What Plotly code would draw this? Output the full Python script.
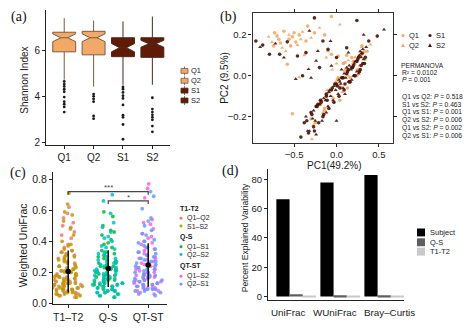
import plotly.graph_objects as go

W, H = 474, 331
FONT = "Liberation Sans, Arial, sans-serif"
SERIF = "Liberation Serif, Times New Roman, serif"

# ---------------- panel (a): Shannon index boxplots ----------------
box_groups = ["Q1", "Q2", "S1", "S2"]
box_q1 = [5.93, 5.80, 5.72, 5.69]
box_median = [6.54, 6.54, 6.11, 6.28]
box_q3 = [6.78, 6.82, 6.54, 6.54]
box_lower = [4.72, 4.42, 4.50, 4.50]
box_upper = [7.39, 7.29, 7.25, 7.46]
box_notch = [0.17, 0.17, 0.18, 0.15]
out_Q1 = [4.65, 4.54, 4.43, 4.31, 4.20, 3.97, 3.77, 3.66, 3.54, 3.32]
out_Q2 = [4.10, 4.00, 3.89, 3.77, 3.15, 3.03]
out_S1 = [4.41, 4.31, 4.17, 4.03, 3.91, 3.63, 3.18, 3.09, 2.78, 2.14]
out_S2 = [3.94, 3.45, 3.32, 3.20, 3.09, 2.98, 2.71, 2.46]
box_colors = ["#F2A866", "#F2A866", "#601B06", "#601B06"]
box_edges = ["#7A5C44", "#7A5C44", "#4A2A1C", "#4A2A1C"]
a_yticks = [2, 4, 6]

# ---------------- panel (b): PCoA scatter ----------------
Q1_x = [-0.73, -0.62, -0.50, -0.44, -0.68, -0.56, -0.74, -0.54, -0.34, -0.06, -0.14, -0.58, -0.06, 0.02, 0.10, 0.30, 0.18,
        -0.30, -0.25, -0.19, -0.14, -0.09, -0.04, 0.01, 0.06, 0.11, 0.16, 0.21, 0.26, 0.31, 0.36, -0.52, -0.14, 0.04, 0.13, 0.24,
        -0.70, -0.66, -0.52, -0.48, -0.36, -0.26, 0.02, 0.08, 0.20, 0.28, 0.12, 0.33]
Q1_y = [0.21, 0.218, 0.21, 0.20, 0.178, 0.178, 0.146, 0.146, 0.243, 0.29, 0.20, 0.056, 0.105, 0.097, 0.065, 0.146, 0.089,
        -0.21, -0.23, -0.14, -0.16, -0.08, -0.11, -0.02, -0.06, 0.03, -0.01, 0.07, 0.03, 0.11, 0.12, -0.186, -0.17, -0.12, -0.06, 0.0,
        0.195, 0.16, 0.19, 0.165, 0.17, 0.21, -0.01, 0.06, 0.07, 0.10, 0.10, 0.12]
Q2_x = [-0.42, -0.64, -0.20, 0.04, -0.30, -0.44, -0.12, 0.40, -0.80, -0.60, -0.38,
        -0.27, -0.22, -0.16, -0.11, -0.06, -0.01, 0.04, 0.09, 0.14, 0.19, 0.24, 0.29, 0.34, -0.29, 0.07, 0.17, 0.27, -0.05,
        -0.76, -0.56, -0.46, -0.40, -0.10, 0.0, 0.14, 0.22, 0.30]
Q2_y = [0.178, 0.137, 0.234, 0.25, 0.186, -0.008, 0.089, 0.153, 0.19, 0.12, 0.10,
        -0.24, -0.15, -0.18, -0.07, -0.10, -0.03, -0.05, 0.02, 0.0, 0.06, 0.03, 0.10, 0.08, -0.31, -0.08, -0.03, 0.05, 0.03,
        0.165, 0.20, 0.15, 0.215, 0.12, 0.06, 0.075, 0.09, 0.14]
S1_x = [-0.95, -0.87, -0.79, -0.67, -0.58, -0.46, -0.26, -0.16, -0.10, -0.36, -0.20, 0.24, 0.48, 0.38, 0.12, 0.00, -0.40,
        -0.38, -0.33, -0.30, -0.27, -0.24, -0.21, -0.18, -0.15, -0.12, -0.09, -0.06, -0.03, 0.00, 0.03, 0.06, 0.09, 0.12,
        0.15, 0.18, 0.21, 0.24, 0.27, 0.30, 0.33, -0.22, -0.12, -0.02, 0.08, 0.14, 0.20, 0.26, 0.31, -0.42,
        -0.35, -0.29, -0.23, -0.19, -0.11, -0.05, 0.01, 0.07, 0.13, 0.19, 0.25, 0.29, 0.34, 0.16, 0.22, 0.28, -0.26,
        -0.16, 0.04, 0.10]
S1_y = [0.17, 0.15, 0.105, 0.105, 0.166, 0.097, 0.283, 0.17, 0.129, 0.113, 0.04, 0.27, 0.194, 0.17, 0.137, 0.089, 0.0,
        -0.23, -0.28, -0.18, -0.25, -0.15, -0.23, -0.13, -0.19, -0.10, -0.16, -0.07, -0.13, -0.04, -0.10, -0.01, -0.07, 0.01,
        -0.03, 0.04, 0.0, 0.07, 0.02, 0.11, 0.06, -0.14, -0.09, -0.04, -0.01, 0.03, 0.05, 0.09, 0.06, -0.30,
        -0.22, -0.19, -0.15, -0.12, -0.12, -0.06, -0.05, -0.01, 0.02, 0.04, 0.08, 0.05, 0.09, -0.03, 0.0, 0.03, -0.27,
        -0.20, -0.06, -0.04]
S2_x = [-0.90, -0.72, -0.62, -0.32, -0.22, -0.07, -0.24, -0.33, 0.32, 0.56, 0.14, -0.06, -0.48, -0.30, -0.24,
        -0.36, -0.32, -0.28, -0.25, -0.20, -0.17, -0.13, -0.10, -0.07, -0.04, -0.01, 0.02, 0.05, 0.08, 0.11, 0.14, 0.17,
        0.20, 0.23, 0.26, 0.29, 0.32, 0.35, -0.18, -0.08, 0.04, 0.12, 0.22, 0.28, 0.0, 0.10,
        -0.34, -0.27, -0.21, -0.15, -0.09, -0.03, 0.03, 0.09, 0.15, 0.21, 0.27, 0.31, 0.18, 0.24, -0.12, 0.06]
S2_y = [0.14, 0.157, 0.089, 0.22, 0.121, 0.17, 0.073, 0.032, 0.2, 0.226, 0.113, 0.049, -0.016, -0.01, -0.288,
        -0.20, -0.27, -0.21, -0.22, -0.14, -0.22, -0.12, -0.15, -0.10, -0.12, -0.07, -0.09, -0.04, -0.06, -0.01, -0.03, 0.03,
        0.0, 0.07, 0.01, 0.09, 0.08, 0.14, -0.12, -0.07, -0.03, 0.04, 0.07, 0.12, -0.22, -0.09,
        -0.27, -0.17, -0.14, -0.11, -0.08, -0.05, -0.02, 0.01, 0.05, 0.06, 0.10, 0.13, -0.02, 0.02, -0.18, 0.03]
Q_COL = "#F2A866"
S_COL = "#4A1206"
b_xticks = [-0.5, 0.0, 0.5]
b_xtext = ["−0.5", "0.0", "0.5"]
b_yticks = [-0.2, 0.0, 0.2]
b_ytext = ["−0.2", "0.0", "0.2"]
perm_lines = ["PERMANOVA", "R² = 0.0102", "<i>P</i> = 0.001", "",
              "Q1 vs Q2: <i>P</i> = 0.518", "S1 vs S2: <i>P</i> = 0.463", "Q1 vs S1: <i>P</i> = 0.001",
              "Q2 vs S2: <i>P</i> = 0.006", "Q1 vs S2: <i>P</i> = 0.002", "Q2 vs S1: <i>P</i> = 0.006"]

# ---------------- panel (c): weighted UniFrac strips ----------------
c_groups = ["T1–T2", "Q-S", "QT-ST"]
d_Q1Q2 = [0.05, 0.07, 0.08, 0.09, 0.10, 0.11, 0.12, 0.13, 0.14, 0.15, 0.16, 0.17, 0.18, 0.19, 0.20, 0.21, 0.22, 0.24,
          0.26, 0.28, 0.30, 0.32, 0.34, 0.36, 0.38, 0.42, 0.46, 0.50, 0.52, 0.55, 0.58, 0.62, 0.06, 0.09, 0.12, 0.15,
          0.18, 0.11, 0.14, 0.08, 0.04, 0.06, 0.07, 0.09, 0.10, 0.12, 0.13, 0.14, 0.16, 0.17, 0.19, 0.21, 0.23, 0.24,
          0.27, 0.29, 0.31, 0.33, 0.44, 0.49]
d_S1S2 = [0.04, 0.05, 0.06, 0.07, 0.08, 0.09, 0.10, 0.11, 0.12, 0.13, 0.14, 0.15, 0.16, 0.17, 0.18, 0.19, 0.20, 0.22,
          0.24, 0.25, 0.27, 0.29, 0.31, 0.33, 0.35, 0.37, 0.40, 0.44, 0.48, 0.53, 0.59, 0.64, 0.71, 0.06, 0.10, 0.13,
          0.16, 0.08, 0.12, 0.21, 0.05, 0.06, 0.07, 0.09, 0.10, 0.11, 0.13, 0.14, 0.15, 0.17, 0.18, 0.20, 0.22, 0.23,
          0.26, 0.28, 0.30, 0.34, 0.38, 0.57]
d_Q1S1 = [0.04, 0.06, 0.07, 0.08, 0.10, 0.11, 0.12, 0.13, 0.14, 0.15, 0.16, 0.17, 0.18, 0.19, 0.20, 0.21, 0.22, 0.23,
          0.25, 0.26, 0.28, 0.30, 0.32, 0.34, 0.36, 0.38, 0.41, 0.44, 0.47, 0.50, 0.56, 0.59, 0.09, 0.13, 0.17, 0.24,
          0.27, 0.12, 0.05, 0.07, 0.08, 0.09, 0.11, 0.12, 0.14, 0.15, 0.16, 0.18, 0.19, 0.21, 0.22, 0.24, 0.26, 0.29,
          0.31, 0.33, 0.39, 0.46]
d_Q2S2 = [0.05, 0.06, 0.08, 0.09, 0.10, 0.11, 0.12, 0.14, 0.15, 0.16, 0.17, 0.18, 0.19, 0.20, 0.21, 0.22, 0.24, 0.25,
          0.27, 0.29, 0.31, 0.33, 0.35, 0.37, 0.40, 0.43, 0.46, 0.52, 0.58, 0.66, 0.70, 0.07, 0.13, 0.16, 0.19, 0.23,
          0.28, 0.04, 0.07, 0.08, 0.10, 0.11, 0.12, 0.13, 0.15, 0.17, 0.18, 0.20, 0.21, 0.23, 0.26, 0.27, 0.30, 0.32,
          0.36, 0.42, 0.49]
d_Q1S2 = [0.06, 0.08, 0.09, 0.10, 0.11, 0.12, 0.13, 0.14, 0.15, 0.16, 0.17, 0.18, 0.19, 0.20, 0.21, 0.22, 0.23, 0.24,
          0.26, 0.28, 0.30, 0.32, 0.34, 0.36, 0.38, 0.40, 0.42, 0.45, 0.48, 0.51, 0.54, 0.68, 0.74, 0.77, 0.10, 0.14,
          0.18, 0.25, 0.29, 0.33, 0.07, 0.08, 0.10, 0.11, 0.12, 0.13, 0.15, 0.16, 0.17, 0.19, 0.20, 0.22, 0.24, 0.27,
          0.29, 0.31, 0.35, 0.39, 0.43, 0.52]
d_Q2S1 = [0.05, 0.07, 0.08, 0.09, 0.11, 0.12, 0.13, 0.15, 0.16, 0.17, 0.19, 0.20, 0.21, 0.23, 0.24, 0.26, 0.27, 0.29,
          0.31, 0.33, 0.35, 0.37, 0.39, 0.41, 0.44, 0.47, 0.50, 0.55, 0.69, 0.72, 0.09, 0.14, 0.18, 0.22, 0.28, 0.06,
          0.08, 0.09, 0.10, 0.12, 0.14, 0.15, 0.17, 0.18, 0.20, 0.22, 0.25, 0.27, 0.30, 0.32, 0.36, 0.40, 0.45, 0.53,
          0.61]
c_means = [0.205, 0.224, 0.248]
c_sd = [0.135, 0.118, 0.140]
c_yticks = [0, 0.2, 0.4, 0.6, 0.8]
c_ytext = ["0.0", "0.2", "0.4", "0.6", "0.8"]
sig1_y = [0.70, 0.72, 0.72, 0.70]
sig2_y = [0.64, 0.66, 0.66, 0.64]
pair_cols = {"Q1–Q2": "#F8766D", "S1–S2": "#B79F00", "Q1–S1": "#00BA38",
             "Q2–S2": "#00BFC4", "Q1–S2": "#F564E3", "Q2–S1": "#619CFF"}

# ---------------- panel (d): explained variability ----------------
d_metrics = ["UniFrac", "WUniFrac", "Bray–Curtis"]
var_subject = [66.5, 78.0, 83.0]
var_qs = [1.5, 0.8, 0.8]
var_t = [0.3, 0.2, 0.2]
d_yticks = [0, 20, 40, 60, 80]

fig = go.Figure()

# (a)
for g, lo, a, m, b, hi, n, fc, ec in zip(box_groups, box_lower, box_q1, box_median, box_q3, box_upper,
                                         box_notch, box_colors, box_edges):
    fig.add_trace(go.Box(x=[g], q1=[a], median=[m], q3=[b], lowerfence=[lo], upperfence=[hi],
                         notchspan=[n], notched=True, notchwidth=0.35, width=0.78, whiskerwidth=0,
                         fillcolor=fc, line=dict(color=ec, width=1), boxpoints=False,
                         showlegend=False, xaxis="x", yaxis="y"))
for g, outs in zip(box_groups, [out_Q1, out_Q2, out_S1, out_S2]):
    fig.add_trace(go.Scatter(x=[g] * len(outs), y=outs, mode="markers",
                             marker=dict(size=2.8, color="#1a1a1a"), showlegend=False,
                             xaxis="x", yaxis="y"))

# (b)
for xs, ys, col, sym in [(Q1_x, Q1_y, Q_COL, "circle"), (Q2_x, Q2_y, Q_COL, "triangle-up"),
                         (S1_x, S1_y, S_COL, "circle"), (S2_x, S2_y, S_COL, "triangle-up")]:
    fig.add_trace(go.Scatter(x=xs, y=ys, mode="markers",
                             marker=dict(size=3.6, color=col, symbol=sym, opacity=0.9),
                             showlegend=False, xaxis="x2", yaxis="y2"))

# (c)
strip_sets = [("T1–T2", "Q1–Q2", d_Q1Q2), ("T1–T2", "S1–S2", d_S1S2),
              ("Q-S", "Q1–S1", d_Q1S1), ("Q-S", "Q2–S2", d_Q2S2),
              ("QT-ST", "Q1–S2", d_Q1S2), ("QT-ST", "Q2–S1", d_Q2S1)]
for grp, pair, vals in strip_sets:
    fig.add_trace(go.Box(x=[grp] * len(vals), y=vals, boxpoints="all", jitter=1.0, pointpos=0,
                         width=0.8, whiskerwidth=0, fillcolor="rgba(0,0,0,0)",
                         line=dict(width=0, color="rgba(0,0,0,0)"),
                         marker=dict(size=3.8, color=pair_cols[pair], opacity=0.85),
                         showlegend=False, xaxis="x3", yaxis="y3"))
fig.add_trace(go.Scatter(x=c_groups, y=c_means, mode="markers",
                         marker=dict(size=5.5, color="black"),
                         error_y=dict(type="data", array=c_sd, color="black", thickness=1.4, width=0),
                         showlegend=False, xaxis="x3", yaxis="y3"))
fig.add_trace(go.Scatter(x=["T1–T2", "T1–T2", "QT-ST", "QT-ST"], y=sig1_y, mode="lines",
                         line=dict(color="#444", width=1.2), showlegend=False, xaxis="x3", yaxis="y3"))
fig.add_trace(go.Scatter(x=["Q-S", "Q-S", "QT-ST", "QT-ST"], y=sig2_y, mode="lines",
                         line=dict(color="#444", width=1.2), showlegend=False, xaxis="x3", yaxis="y3"))

# (d)
for vals, col in [(var_subject, "#000000"), (var_qs, "#5E5E5E"), (var_t, "#C8C8C8")]:
    fig.add_trace(go.Bar(x=d_metrics, y=vals, marker=dict(color=col, line=dict(width=0)),
                         showlegend=False, xaxis="x4", yaxis="y4"))


def px(x):
    return x / W


def py(y):
    return 1 - y / H


axis_common = dict(showgrid=False, zeroline=False, showline=True, linecolor="#222", linewidth=1,
                   ticks="outside", ticklen=3, tickcolor="#222", tickwidth=1,
                   tickfont=dict(family=FONT, size=10, color="#1a1a1a"))

fig.update_layout(
    width=W, height=H, margin=dict(l=0, r=0, t=0, b=0),
    plot_bgcolor="white", paper_bgcolor="white",
    boxmode="overlay", barmode="group", bargap=0.1, bargroupgap=0,
    font=dict(family=FONT, size=10, color="#1a1a1a"),
    xaxis=dict(axis_common, domain=[px(46), px(170)], anchor="y", type="category",
               categoryorder="array", categoryarray=box_groups, range=[-0.62, 3.6]),
    yaxis=dict(axis_common, domain=[py(147), py(10)], anchor="x", range=[1.9, 7.75],
               tickvals=a_yticks),
    xaxis2=dict(axis_common, domain=[px(252.5), px(392.5)], anchor="y2", range=[-0.99, 0.66],
                tickvals=b_xticks, ticktext=b_xtext, mirror="ticks", linecolor="#333", linewidth=1.2,
                tickfont=dict(family=FONT, size=9.5, color="#1a1a1a")),
    yaxis2=dict(axis_common, domain=[py(145), py(13)], anchor="x2", range=[-0.328, 0.308],
                tickvals=b_yticks, ticktext=b_ytext, mirror="ticks", linecolor="#333", linewidth=1.2,
                tickfont=dict(family=FONT, size=9.5, color="#1a1a1a")),
    xaxis3=dict(axis_common, domain=[px(53), px(167)], anchor="y3", type="category",
                categoryorder="array", categoryarray=c_groups, range=[-0.38, 2.47],
                tickfont=dict(family=FONT, size=10.5, color="#1a1a1a")),
    yaxis3=dict(axis_common, domain=[py(309), py(175)], anchor="x3", range=[-0.006, 0.844],
                tickvals=c_yticks, ticktext=c_ytext,
                tickfont=dict(family=FONT, size=10.5, color="#1a1a1a")),
    xaxis4=dict(axis_common, domain=[px(268), px(404)], anchor="y4", type="category",
                categoryorder="array", categoryarray=d_metrics, range=[-0.64, 2.45],
                showticklabels=False, ticks=""),
    yaxis4=dict(axis_common, domain=[py(305), py(172)], anchor="x4", range=[-2.7, 86.9],
                tickvals=d_yticks, tickfont=dict(family=FONT, size=9.5, color="#1a1a1a")),
)

ann = []
shapes = []


def text(x, y, s, size=10, anchor="left", family=FONT, angle=0, color="#1a1a1a"):
    ann.append(dict(x=px(x), y=py(y), xref="paper", yref="paper", text=s, showarrow=False,
                    xanchor=anchor, yanchor="middle", textangle=angle,
                    font=dict(family=family, size=size, color=color)))


# panel labels
for lab, x, y in [("(a)", 19, 17), ("(b)", 228, 17), ("(c)", 18, 176), ("(d)", 230, 174)]:
    text(x, y, lab, size=14, anchor="center", family=SERIF, color="#111")

# axis titles
text(25, 82, "Shannon Index", size=10, anchor="center", angle=-90)
text(225, 79, "PC2 (9.5%)", size=10, anchor="center", angle=-90)
text(334, 168, "PC1(49.2%)", size=10, anchor="center")
text(23, 249, "Weighted UniFrac", size=10.5, anchor="center", angle=-90)
text(245, 242, "Percent Explained Variability", size=8.6, anchor="center", angle=-90)

# x labels of panel (d), placed under the bar groups as in the figure
for lab, x in zip(d_metrics, [288, 335, 389]):
    text(x, 317, lab, size=9.8, anchor="center")

# significance marks
ann.append(dict(x=1, y=0.745, xref="x3", yref="y3", text="***", showarrow=False,
                font=dict(family=FONT, size=8, color="#444"), yanchor="middle"))
ann.append(dict(x=1.5, y=0.685, xref="x3", yref="y3", text="*", showarrow=False,
                font=dict(family=FONT, size=8, color="#444"), yanchor="middle"))

# legend (a)
for i, (g, fc, ec) in enumerate(zip(box_groups, box_colors, box_edges)):
    yc = 72 + i * 10
    shapes.append(dict(type="line", xref="paper", yref="paper", x0=px(184.5), x1=px(184.5),
                       y0=py(yc - 4.5), y1=py(yc + 4.5), line=dict(color="#777", width=1)))
    shapes.append(dict(type="rect", xref="paper", yref="paper", x0=px(181), x1=px(188),
                       y0=py(yc + 2.5), y1=py(yc - 2.5), fillcolor=fc, line=dict(color=ec, width=0.8)))
    text(189, yc, g, size=7.5)

# legend (b)
for xc, yc, col, sym, lab in [(403, 36, Q_COL, "c", "Q1"), (430, 36, S_COL, "c", "S1"),
                              (403, 46, Q_COL, "t", "Q2"), (430, 46, S_COL, "t", "S2")]:
    if sym == "c":
        shapes.append(dict(type="circle", xref="paper", yref="paper", x0=px(xc - 1.6), x1=px(xc + 1.6),
                           y0=py(yc + 1.6), y1=py(yc - 1.6), fillcolor=col, line=dict(width=0)))
    else:
        path = "M {} {} L {} {} L {} {} Z".format(px(xc - 2), py(yc + 1.6), px(xc + 2), py(yc + 1.6),
                                                  px(xc), py(yc - 2))
        shapes.append(dict(type="path", xref="paper", yref="paper", path=path, fillcolor=col, line=dict(width=0)))
    text(xc + 4, yc, lab, size=7.5)

for i, s in enumerate(perm_lines):
    if s:
        yy = 66 + i * 7.2 if i < 3 else 98 + (i - 4) * 8
        text(398.5 if i == 0 else 400, yy, s, size=6.7)

# legend (c)
c_leg = [("T1-T2", None, 212), ("Q1–Q2", pair_cols["Q1–Q2"], 221.5), ("S1–S2", pair_cols["S1–S2"], 229.5),
         ("Q-S", None, 241), ("Q1–S1", pair_cols["Q1–S1"], 250.5), ("Q2–S2", pair_cols["Q2–S2"], 258.5),
         ("QT-ST", None, 270), ("Q1–S2", pair_cols["Q1–S2"], 280.5), ("Q2–S1", pair_cols["Q2–S1"], 288.5)]
for lab, col, yc in c_leg:
    if col is None:
        text(178, yc, "<b>" + lab + "</b>", size=7)
    else:
        shapes.append(dict(type="circle", xref="paper", yref="paper", x0=px(179.5), x1=px(182.5),
                           y0=py(yc + 1.5), y1=py(yc - 1.5), fillcolor=col, line=dict(width=0)))
        text(184.5, yc, lab, size=7)

# legend (d)
for lab, col, yc in [("Subject", "#000000", 236), ("Q-S", "#5E5E5E", 246), ("T1-T2", "#C8C8C8", 255.5)]:
    shapes.append(dict(type="rect", xref="paper", yref="paper", x0=px(417), x1=px(425),
                       y0=py(yc + 4), y1=py(yc - 4), fillcolor=col, line=dict(width=0)))
    text(427.5, yc, lab, size=7.5)

fig.update_layout(annotations=ann, shapes=shapes)
fig.write_html("out.html")
